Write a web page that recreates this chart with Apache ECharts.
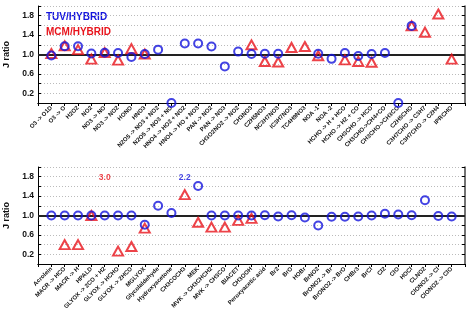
<!DOCTYPE html>
<html>
<head>
<meta charset="utf-8">
<script src="https://cdn.jsdelivr.net/npm/echarts@6/dist/echarts.min.js"></script>
<style>
html,body{margin:0;padding:0;background:#fff;}
#chart{width:474px;height:323px;}
</style>
</head>
<body>
<div id="chart"></div>
<script>
// ---- data ----
var topCategories = ['O3 -> O1D','O3 -> O','H2O2','NO2','NO3 -> NO','NO3 -> NO2','HONO','HNO3',
  'N2O5 -> NO3 + NO2','N2O5 -> NO3 + NO','HNO4 -> HO2 + NO2','HNO4 -> HO + NO3','PAN -> NO2','PAN -> NO3',
  'CH3O2NO2 -> NO2','CH3NO3','C2H5NO3','NC3H7NO3','IC3H7NO3','TC4H9NO3','NOA -1','NOA -2',
  'HCHO -> H + HCO','HCHO -> H2 + CO','CH3CHO -> HCO','CH3CHO->CH4+CO','CH3CHO->CH3CO','C2H5CHO',
  'C3H7CHO -> C3H7','C3H7CHO -> C2H4','IPRCHO'];
var topTUV = [0.98,1.17,1.17,1.02,1.035,1.03,0.95,1.01,1.10,0.0,1.225,1.225,1.165,0.755,1.06,1.01,1.015,1.015,
  null,null,1.015,0.91,1.03,0.97,1.01,1.03,0.0,1.59,null,null,null];
var topMCM = [1.02,1.18,1.10,0.905,1.04,0.885,1.12,1.01,null,null,null,null,null,null,null,1.20,0.856,0.845,
  1.145,1.165,0.975,null,0.89,0.857,0.84,null,null,1.59,1.46,1.835,0.905];

var bottomCategories = ['Acrolein','MACR -> HCO','MACR -> H','HPALD','GLYOX -> 2CO + H2','GLYOX -> HCHO',
  'GLYOX -> 2HCO','MGLYOX','Glycolaldehyde','Hydroxyacetone','CH3COCH3','MEK','MVK -> CH3CHCH2','MVK -> CH3CO',
  'BIACET','CH3OOH','Peroxyacetic acid','Br2','BrO','HOBr','BrNO2','BrONO2 -> Br','BrONO2 -> BrO','CHBr3',
  'BrCl','Cl2','ClO','HOCl','CLNO2','ClONO2 -> Cl','ClONO2 -> ClO'];
var bottomTUV = [1,1,1,1,1,1,1,0.81,1.20,1.05,2.2,1.61,1,1,1,1,1.005,0.98,1.005,0.96,0.795,0.975,0.975,0.98,
  1,1.035,1.02,1.005,1.315,0.99,0.98];
var bottomMCM = [null,0.40,0.40,1.0,3.0,0.265,0.36,0.74,null,null,1.43,0.86,0.76,0.76,0.90,0.94,
  null,null,null,null,null,null,null,null,null,null,null,null,null,null,null];

var yTickLabels = ['0.2','0.6','1.0','1.4','1.8'];
var seriesNames = ['TUV/HYBRID','MCM/HYBRID'];

// ---- styles ----
var BLUE = '#1414dc', RED = '#e8141c';
var Y_MIN = 0, Y_MAX = 2, OFFSCALE_Y = 1.78;
var FONT = 'Liberation Sans, Arial, sans-serif';

function padCats(c){ return [''].concat(c).concat(['']); }
function pts(vals){
  var out = [];
  vals.forEach(function(v,i){ if(v!==null && v<=Y_MAX) out.push([i+1, v]); });
  return out;
}
function offPts(vals){
  var out = [];
  vals.forEach(function(v,i){ if(v!==null && v>Y_MAX) out.push({value:[i+1, OFFSCALE_Y], raw:v}); });
  return out;
}

var grids = [
  {left:38,right:9,top:6,height:97,containLabel:false,outerBoundsMode:'none'},
  {left:38,right:9,top:167,height:97,containLabel:false,outerBoundsMode:'none'}
];
var xAxes = [], yAxes = [], series = [];
[[topCategories,topTUV,topMCM],[bottomCategories,bottomTUV,bottomMCM]].forEach(function(p,g){
  var cats = padCats(p[0]);
  xAxes.push({gridIndex:g,type:'category',data:cats,boundaryGap:false,position:'bottom',
    axisLine:{lineStyle:{color:'#000',width:1}},
    axisTick:{show:true,interval:0,length:3,inside:false,lineStyle:{color:'#000'}},
    axisLabel:{interval:0,rotate:45,fontSize:6,fontWeight:'bold',color:'#111',margin:4,fontFamily:FONT,hideOverlap:false},
    splitLine:{show:false}});
  xAxes.push({gridIndex:g,type:'category',data:cats,boundaryGap:false,position:'top',
    axisLine:{lineStyle:{color:'#000',width:1}},
    axisTick:{show:true,interval:0,length:3,inside:true,lineStyle:{color:'#000'}},
    axisLabel:{show:false},splitLine:{show:false}});
  yAxes.push({gridIndex:g,type:'value',min:Y_MIN,max:Y_MAX,interval:0.2,position:'left',
    name:'J ratio',nameLocation:'middle',nameGap:22,nameRotate:90,
    nameTextStyle:{fontSize:9,fontWeight:'bold',color:'#111',fontFamily:FONT},
    axisLine:{show:true,lineStyle:{color:'#000',width:1}},
    axisTick:{show:true,inside:true,length:3,lineStyle:{color:'#000'}},
    axisLabel:{fontSize:8.5,fontWeight:'bold',color:'#111',margin:4,fontFamily:FONT,
      formatter:function(v){ var s=(Math.round(v*10)/10).toFixed(1); return yTickLabels.indexOf(s)>=0?s:''; }},
    splitLine:{show:true,lineStyle:{color:'#bbb',type:[1,2],width:1}}});
  yAxes.push({gridIndex:g,type:'value',min:Y_MIN,max:Y_MAX,interval:0.2,position:'right',
    axisLine:{show:true,lineStyle:{color:'#444',width:1.5}},
    axisTick:{show:true,inside:true,length:3,lineStyle:{color:'#000'}},
    axisLabel:{show:false},splitLine:{show:false}});
  var xi = g*2, yi = g*2;
  series.push({type:'scatter',name:seriesNames[1],xAxisIndex:xi,yAxisIndex:yi,data:pts(p[2]),
    symbol:'triangle',symbolSize:[10,9],clip:false,z:3,
    itemStyle:{color:'rgba(0,0,0,0)',borderColor:RED,borderWidth:2}});
  series.push({type:'scatter',name:seriesNames[0],xAxisIndex:xi,yAxisIndex:yi,data:pts(p[1]),
    symbol:'circle',symbolSize:8,clip:false,z:4,
    itemStyle:{color:'rgba(0,0,0,0)',borderColor:BLUE,borderWidth:2},
    markLine:{silent:true,symbol:'none',z:2,label:{show:false},
      lineStyle:{color:'#222',width:2,type:'solid'},data:[{yAxis:1}]}});
  [[p[2],RED],[p[1],BLUE]].forEach(function(s){
    series.push({type:'scatter',xAxisIndex:xi,yAxisIndex:yi,data:offPts(s[0]),symbolSize:0,z:5,
      label:{show:true,position:'inside',color:s[1],fontSize:8.5,fontWeight:'bold',fontFamily:FONT,
        formatter:function(d){ return d.data.raw.toFixed(1); }}});
  });
});

var chart = echarts.init(document.getElementById('chart'),null,{renderer:'canvas'});
chart.setOption({
  animation:false,
  grid:grids, xAxis:xAxes, yAxis:yAxes, series:series,
  graphic:[
    {type:'text',left:46,top:12,style:{text:seriesNames[0],fill:BLUE,font:'bold 10px '+FONT}},
    {type:'text',left:46,top:27,style:{text:seriesNames[1],fill:RED,font:'bold 10px '+FONT}}
  ]
});
</script>
</body>
</html>
